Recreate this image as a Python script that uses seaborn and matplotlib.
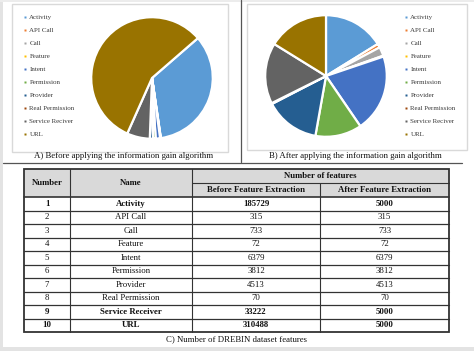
import matplotlib
matplotlib.use("Agg")
import matplotlib.pyplot as plt
import seaborn as sns
from matplotlib.patches import Rectangle
from matplotlib.lines import Line2D

# ---------------- data ----------------
numbers = ["1", "2", "3", "4", "5", "6", "7", "8", "9", "10"]
names = ["Activity", "API Call", "Call", "Feature", "Intent", "Permission",
         "Provider", "Real Permission", "Service Receiver", "URL"]
legend_labels = ["Activity", "API Call", "Call", "Feature", "Intent", "Permission",
                 "Provider", "Real Permission", "Service Reciver", "URL"]
before = [185729, 315, 733, 72, 6379, 3812, 4513, 70, 33222, 310488]
after = [5000, 315, 733, 72, 6379, 3812, 4513, 70, 5000, 5000]
bold_rows = [0, 8, 9]
colors = ["#5B9BD5", "#ED7D31", "#A5A5A5", "#FFC000", "#4472C4",
          "#70AD47", "#255E91", "#9E480E", "#636363", "#997300"]

sns.set_theme(style="white")
plt.rcParams['font.family'] = ['Liberation Serif', 'DejaVu Serif']
palette = sns.color_palette(colors)

W, H = 474, 351
fig = plt.figure(figsize=(W / 100, H / 100), dpi=100)
fig.patch.set_facecolor("white")

# background axes in pixel coordinates
bg = fig.add_axes([0, 0, 1, 1])
bg.set_xlim(0, W)
bg.set_ylim(H, 0)
bg.axis("off")

# outer light border
bg.add_patch(Rectangle((0, 0), 3, H, color="#e3e3e3", lw=0))
bg.add_patch(Rectangle((0, H - 4), W, 4, color="#e3e3e3", lw=0))
bg.add_patch(Rectangle((0, 0), W, 2, color="#ececec", lw=0))

# panel frames
bg.add_patch(Rectangle((12, 4), 216, 148, fill=False, ec="#d9d9d9", lw=1))
bg.add_patch(Rectangle((247, 4), 220, 146, fill=False, ec="#d9d9d9", lw=1))
bg.plot([241, 241], [0, 162], color="#555555", lw=0.9)
bg.plot([3, 462], [162.5, 162.5], color="#555555", lw=0.9)

cap_kw = dict(ha="center", va="center", fontsize=6.3, color="#111111")
bg.text(124, 156, "A) Before applying the information gain algorithm", **cap_kw)
bg.text(355, 156, "B) After applying the information gain algorithm", **cap_kw)
bg.text(237, 339, "C) Number of DREBIN dataset features", **cap_kw)


def pie_axes(cx, cy, r):
    return fig.add_axes([(cx - r) / W, (H - cy - r) / H, 2 * r / W, 2 * r / H])


def draw_pie(ax, vals, start):
    wedges, _ = ax.pie(vals, colors=palette, startangle=start, counterclock=False,
                       wedgeprops=dict(edgecolor="white", linewidth=1.6))
    ax.set_xlim(-1.02, 1.02)
    ax.set_ylim(-1.02, 1.02)
    ax.set_aspect("equal")
    return wedges


axA = pie_axes(152, 78, 62)
wA = draw_pie(axA, before, 41)
axB = pie_axes(326, 76, 62)
wB = draw_pie(axB, after, 90)

handles = [Line2D([], [], linestyle="none", marker="s", markersize=1.6,
                  markerfacecolor=c, markeredgecolor="none") for c in palette]
leg_kw = dict(loc="upper left", frameon=False, fontsize=5.0,
              handlelength=0.4, handletextpad=0.45,
              labelspacing=1.03, borderpad=0, borderaxespad=0)
legA = fig.legend(handles, legend_labels, bbox_to_anchor=(23.5 / W, 1 - 14.5 / H), **leg_kw)
legB = fig.legend(handles, legend_labels, bbox_to_anchor=(404.5 / W, 1 - 14.5 / H), **leg_kw)
for leg in (legA, legB):
    for t in leg.get_texts():
        t.set_color("#3a3a3a")

# ---------------- table ----------------
cols = [24, 70, 192, 320, 449]
top, h1, h2 = 169, 183, 197
rowh = 13.5
bottom = h2 + rowh * len(names)
hdr_color = "#d9d9d9"
lc = "#333333"

bg.add_patch(Rectangle((cols[0], top), cols[-1] - cols[0], h2 - top, color=hdr_color, lw=0))
# grid lines
bg.plot([cols[2], cols[4]], [h1, h1], color=lc, lw=0.8)
for i in range(len(names)):
    y = h2 + rowh * i
    bg.plot([cols[0], cols[4]], [y, y], color=lc, lw=0.9 if i else 1.2)
bg.plot([cols[1], cols[1]], [top, bottom], color=lc, lw=0.8)
bg.plot([cols[2], cols[2]], [top, bottom], color=lc, lw=0.8)
bg.plot([cols[3], cols[3]], [h1, bottom], color=lc, lw=0.8)
bg.add_patch(Rectangle((cols[0], top), cols[-1] - cols[0], bottom - top, fill=False, ec=lc, lw=1.3))

tk = dict(ha="center", va="center", fontsize=6.3, color="#111111")
bg.text((cols[0] + cols[1]) / 2, (top + h2) / 2, "Number", fontweight="bold", **tk)
bg.text((cols[1] + cols[2]) / 2, (top + h2) / 2, "Name", fontweight="bold", **tk)
bg.text((cols[2] + cols[4]) / 2, (top + h1) / 2, "Number of features", fontweight="bold", **tk)
bg.text((cols[2] + cols[3]) / 2, (h1 + h2) / 2, "Before Feature Extraction", fontweight="bold", **tk)
bg.text((cols[3] + cols[4]) / 2, (h1 + h2) / 2, "After Feature Extraction", fontweight="bold", **tk)

for i in range(len(names)):
    yc = h2 + rowh * (i + 0.5)
    fw = "bold" if i in bold_rows else "normal"
    vals = [numbers[i], names[i], str(before[i]), str(after[i])]
    for j, v in enumerate(vals):
        bg.text((cols[j] + cols[j + 1]) / 2, yc, v, fontweight=fw, **tk)

fig.savefig("out.png", dpi=100, facecolor="white")
